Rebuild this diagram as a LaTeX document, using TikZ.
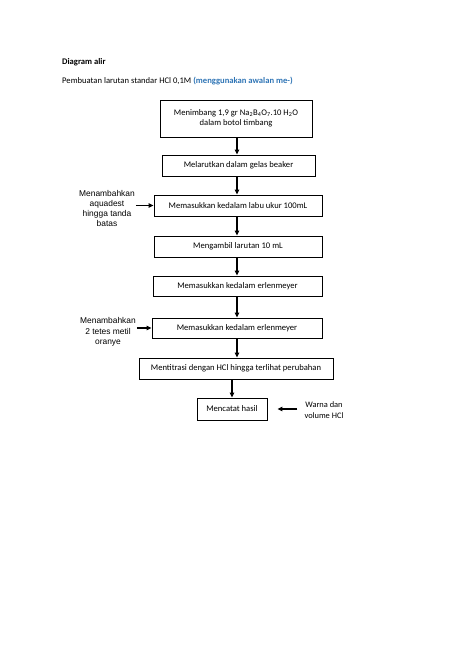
\documentclass[tikz,border=0pt]{standalone}
\usepackage{fontspec}
\setmainfont{Carlito}
\newfontfamily\arial{Liberation Sans}
\usetikzlibrary{arrows.meta}
\definecolor{wordblue}{RGB}{46,116,181}
\begin{document}
\begin{tikzpicture}[x=1pt,y=-1pt,
  box/.style={draw,line width=0.9pt,inner sep=0pt,align=center,font=\fontsize{8.6}{9.6}\selectfont},
  arr/.style={line width=1.2pt,-{Triangle[length=5pt,width=4.5pt]}},
  side/.style={inner sep=1pt,align=center,font=\arial\fontsize{8.4}{10.2}\selectfont},
  txt/.style={inner sep=0pt,anchor=west}]
\useasboundingbox (0,0) rectangle (474,670);
\node[txt,font=\bfseries\fontsize{8.6}{10}\selectfont] (title) at (62,62) {Diagram alir};
\node[txt,font=\fontsize{8.6}{10}\selectfont] (sub) at (62,81) {Pembuatan larutan standar HCl 0,1M \textcolor{wordblue}{\bfseries (menggunakan awalan me-)}};
\node[box,minimum width=152pt,minimum height=37pt] (b1) at (236,118.5) {Menimbang 1,9 gr Na\textsubscript{2}B\textsubscript{4}O\textsubscript{7}.10 H\textsubscript{2}O\\dalam botol timbang};
\node[box,minimum width=153pt,minimum height=21pt] (b2) at (238.5,165.5) {Melarutkan dalam gelas beaker};
\node[box,minimum width=168pt,minimum height=21pt] (b3) at (238,205.5) {Memasukkan kedalam labu ukur 100mL};
\node[box,minimum width=168pt,minimum height=21pt] (b4) at (238,246.5) {Mengambil larutan 10 mL};
\node[box,minimum width=169pt,minimum height=20pt] (b5) at (237.5,286) {Memasukkan kedalam erlenmeyer};
\node[box,minimum width=170pt,minimum height=20pt] (b6) at (237,328) {Memasukkan kedalam erlenmeyer};
\node[box,minimum width=194pt,minimum height=21pt] (b7) at (236,368.5) {Mentitrasi dengan HCl hingga terlihat perubahan};
\node[box,minimum width=70pt,minimum height=22pt] (b8) at (232,409) {Mencatat hasil};
\node[side] (l1) at (107,208.5) {Menambahkan\\aquadest\\hingga tanda\\batas};
\node[side] (l2) at (108,332) {Menambahkan\\2 tetes metil\\oranye};
\node[inner sep=1pt,align=center,font=\fontsize{8.4}{11}\selectfont] (l3) at (324,410.5) {Warna dan\\volume HCl};
\coordinate (c1) at (237,0);
\draw[arr] (b1.south -| c1) -- (b2.north -| c1);
\draw[arr] (b2.south -| c1) -- (b3.north -| c1);
\draw[arr] (b3.south -| c1) -- (b4.north -| c1);
\draw[arr] (b4.south -| c1) -- (b5.north -| c1);
\draw[arr] (b5.south -| c1) -- (b6.north -| c1);
\draw[arr] (b6.south -| c1) -- (b7.north -| c1);
\draw[arr] (b7.south -| b8.north) -- (b8.north);
\draw[arr] (l1.east |- b3.west) -- (b3.west);
\draw[arr] (l2.east |- b6.west) -- (b6.west);
\draw[arr,shorten <=6pt,shorten >=10pt] (l3.west |- b8.east) -- (b8.east);
\end{tikzpicture}
\end{document}
